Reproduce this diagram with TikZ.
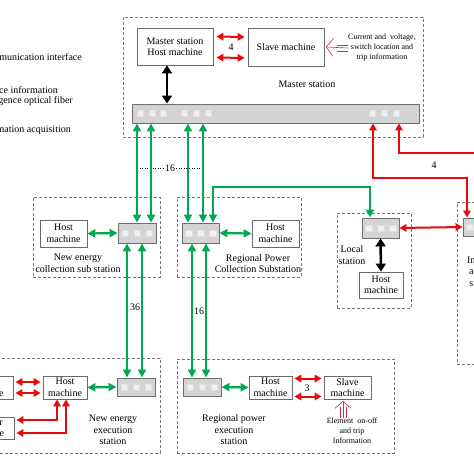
\documentclass[tikz,border=0pt]{standalone}
\usepackage{fontspec}
\setmainfont{Liberation Serif}
\usetikzlibrary{arrows.meta}
\definecolor{gr}{RGB}{0,168,80}
\definecolor{rd}{RGB}{235,10,10}
\definecolor{ird}{RGB}{205,45,65}
\definecolor{bxg}{RGB}{105,105,105}
\definecolor{dg}{RGB}{120,120,120}
\definecolor{swf}{RGB}{212,212,212}
\definecolor{swd}{RGB}{110,110,110}
\definecolor{ptf}{RGB}{240,240,240}
\newcommand\dgtxt{\fontsize{10}{11.5}\selectfont}
\newcommand\dgsmall{\fontsize{8}{10}\selectfont}
\tikzset{
 dbox/.style={draw=dg, dash pattern=on 3pt off 2pt, line width=0.7pt, inner sep=0pt},
 hbox/.style={draw=bxg, fill=white, line width=0.8pt, align=center, inner sep=0.5pt, font=\dgtxt},
 swbox/.style={draw=swd, fill=swf, line width=0.9pt, inner sep=0pt},
 port/.style={draw=ptf!85!gray, fill=ptf, minimum size=6.5pt, inner sep=0pt},
 lbl/.style={align=center, font=\dgtxt, inner sep=0pt},
 small/.style={align=center, font=\dgsmall, inner sep=0pt},
 garr/.style={draw=gr, line width=2.2pt, {Triangle[length=8pt,width=8pt]}-{Triangle[length=8pt,width=8pt]}},
 rarr/.style={draw=rd, line width=2pt, {Triangle[length=7pt,width=7.5pt]}-{Triangle[length=7pt,width=7.5pt]}},
 rarrone/.style={draw=rd, line width=2pt, {Triangle[length=7pt,width=7.5pt]}-},
 karr/.style={draw=black, line width=2.5pt, {Triangle[length=8pt,width=10pt]}-{Triangle[length=8pt,width=10pt]}},
 iarr/.style={draw=ird, line width=0.6pt},
}
\begin{document}
\begin{tikzpicture}[x=1pt,y=-1pt]
\useasboundingbox (0,0) rectangle (474,474);
\clip (0,0) rectangle (474,474);

% column coordinates
\coordinate (cA) at (137,0); \coordinate (cB) at (151,0);
\coordinate (cC) at (188,0); \coordinate (cD) at (203,0);
\coordinate (cE) at (213,0); \coordinate (cF) at (370,0);
\coordinate (cG) at (127,0); \coordinate (cH) at (142,0);
\coordinate (cI) at (192,0); \coordinate (cJ) at (206,0);
\coordinate (kx) at (167,0);
\coordinate (gy) at (0,187); \coordinate (dy) at (0,168);
\coordinate (rx1) at (373,0); \coordinate (rx2) at (399,0);
\coordinate (rx3) at (467,0); \coordinate (rend) at (485,0);
\coordinate (ry1) at (0,178); \coordinate (ry2) at (0,153);
\coordinate (rx4) at (57,0); \coordinate (rx5) at (66,0);
\coordinate (ex) at (343,0);

% legend (clipped)
\node[lbl, anchor=east] (lg1) at (82,57) {Communication interface};
\node[lbl, anchor=east] (lg2) at (58,90) {Interface information};
\node[lbl, anchor=east] (lg3) at (73,101) {Intelligence optical fiber};
\node[lbl, anchor=east] (lg4) at (71,130) {Information acquisition};

% master station
\node[dbox, minimum width=300pt, minimum height=120pt] (mbox) at (273,77) {};
\node[hbox, minimum width=76pt, minimum height=37pt] (mhost) at (175,46.5) {Master station\\Host machine};
\node[hbox, minimum width=76pt, minimum height=38pt] (mslave) at (286,47) {Slave machine};
\node[lbl] (n4a) at (231,47.5) {4};
\draw[rarr] ([yshift=10pt,xshift=3pt]mhost.east) -- ([yshift=10pt,xshift=-3pt]mslave.west);
\draw[rarr] ([yshift=-11pt,xshift=3pt]mhost.east) -- ([yshift=-11pt,xshift=-3pt]mslave.west);
\node[small] (minfo) at (382,48) {Current and \ voltage,\\switch location and\\trip information};
\draw[iarr, -{Straight Barb[length=7pt,width=18pt]}] (minfo.west) -- ([xshift=1.5pt]mslave.east);
\draw[iarr] ([yshift=3pt]minfo.west) -- ++(-11,0);
\draw[iarr] ([yshift=-3pt]minfo.west) -- ++(-11,0);
\node[lbl] (mlbl) at (307,84) {Master station};

\node[swbox, minimum width=287pt, minimum height=19pt] (bar) at (275.5,113.5) {};
\foreach \px [count=\i] in {140,152,163,184,196,208,372,384,396}
  \node[port] (bp\i) at (\px,113) {};
\draw[karr] (mhost.south -| kx) -- (bar.north -| kx);

% new energy collection sub station
\node[dbox, minimum width=127pt, minimum height=80pt] (ncbox) at (96.5,237) {};
\node[hbox, minimum width=47pt, minimum height=27pt] (nchost) at (63.5,233.5) {Host\\machine};
\node[swbox, minimum width=38pt, minimum height=20pt] (nsw) at (137,233) {};
\foreach \o [count=\i] in {-12,0,12} \node[port] (nswp\i) at ([xshift=\o pt]nsw.center) {};
\draw[garr] (nchost.east) -- (nsw.west);
\node[lbl] (nclbl) at (78,263.5) {New energy\\collection sub station};

% regional power collection substation
\node[dbox, minimum width=124pt, minimum height=80pt] (rcbox) at (239,237) {};
\node[swbox, minimum width=37pt, minimum height=20pt] (rsw) at (200.5,233) {};
\foreach \o [count=\i] in {-12,0,12} \node[port] (rswp\i) at ([xshift=\o pt]rsw.center) {};
\node[hbox, minimum width=47pt, minimum height=27pt] (rchost) at (275.5,233.5) {Host\\machine};
\draw[garr] (rsw.east) -- (rchost.west);
\node[lbl] (rclbl) at (258,263.5) {Regional Power\\Collection Substation};

% local station
\node[dbox, minimum width=74pt, minimum height=95pt] (lbox) at (374,260.5) {};
\node[swbox, minimum width=37pt, minimum height=20pt] (lsw) at (380.5,228) {};
\foreach \o [count=\i] in {-12,0,12} \node[port] (lswp\i) at ([xshift=\o pt]lsw.center) {};
\node[hbox, minimum width=44pt, minimum height=26pt] (lhost) at (381,285) {Host\\machine};
\draw[karr] (lsw.south) -- (lhost.north);
\node[lbl] (llbl) at (352,255) {Local\\station};

% right station (clipped)
\node[dbox, minimum width=63pt, minimum height=162pt] (ibox) at (488.5,283) {};
\node[swbox, minimum width=37pt, minimum height=18pt] (isw) at (481.5,227) {};
\foreach \o [count=\i] in {-12,0,12} \node[port] (iswp\i) at ([xshift=\o pt]isw.center) {};
\node[lbl] (ilbl) at (491,271.5) {Information\\acquisition\\sub station};

% green links from master
\draw[dotted, line width=0.6pt] (cA |- dy) -- (cD |- dy);
\node[lbl, fill=white, inner sep=1pt] (n16a) at (170,168) {16};
\draw[garr] (bar.south -| cA) -- (nsw.north -| cA);
\draw[garr] (bar.south -| cB) -- (nsw.north -| cB);
\draw[garr] (bar.south -| cC) -- (rsw.north -| cC);
\draw[garr] (bar.south -| cD) -- (rsw.north -| cD);
\draw[garr] (rsw.north -| cE) -- (cE |- gy) -| (lsw.north -| cF);

% red links
\draw[rarr] (bar.south -| rx1) -- (rx1 |- ry1) -| (isw.north -| rx3);
\draw[rarrone] (bar.south -| rx2) -- (rx2 |- ry2) -- (rend |- ry2);
\node[lbl] (n4b) at (434,165) {4};
\draw[rarr] (lsw.east) -- (isw.west);

% new energy execution station
\node[dbox, minimum width=170pt, minimum height=95pt] (nebox) at (75,405.5) {};
\node[swbox, minimum width=38pt, minimum height=18pt] (nesw) at (136,387) {};
\foreach \o [count=\i] in {-12,0,12} \node[port] (neswp\i) at ([xshift=\o pt]nesw.center) {};
\draw[garr] (nsw.south -| cG) -- (nesw.north -| cG);
\draw[garr] (nsw.south -| cH) -- (nesw.north -| cH);
\node[lbl, fill=white, inner sep=0.5pt] (n36) at (135,307) {36};
\node[hbox, minimum width=44pt, minimum height=23pt] (nehost) at (65,387.5) {Host\\machine};
\draw[garr] (nehost.east) -- (nesw.west);
\node[hbox, minimum width=53pt, minimum height=23pt] (lb1) at (-13.5,387.5) {Slave\\machine};
\node[hbox, minimum width=54pt, minimum height=22pt] (lb2) at (-13,428) {Inverter\\machine};
\draw[rarr] ([yshift=5.5pt,xshift=2pt]lb1.east) -- ([yshift=5.5pt,xshift=-2pt]nehost.west);
\draw[rarr] ([yshift=-5.5pt,xshift=2pt]lb1.east) -- ([yshift=-5.5pt,xshift=-2pt]nehost.west);
\draw[rarr] (nehost.south -| rx4) |- ([yshift=8pt,xshift=2pt]lb2.east);
\draw[rarr] (nehost.south -| rx5) |- ([yshift=-5pt,xshift=2pt]lb2.east);
\node[lbl] (nelbl) at (113,430) {New energy\\execution\\station};

% regional power execution station
\node[dbox, minimum width=217pt, minimum height=94pt] (rebox) at (285.5,406) {};
\node[swbox, minimum width=38pt, minimum height=18pt] (resw) at (202,387) {};
\foreach \o [count=\i] in {-12,0,12} \node[port] (reswp\i) at ([xshift=\o pt]resw.center) {};
\draw[garr] (rsw.south -| cI) -- (resw.north -| cI);
\draw[garr] (rsw.south -| cJ) -- (resw.north -| cJ);
\node[lbl, fill=white, inner sep=0.5pt] (n16b) at (199,311) {16};
\node[hbox, minimum width=43pt, minimum height=23pt] (rehost) at (270.5,387.5) {Host\\machine};
\node[hbox, minimum width=47pt, minimum height=23pt] (reslave) at (347.5,387.5) {Slave\\machine};
\draw[garr] (resw.east) -- (rehost.west);
\draw[rarr] ([yshift=9pt,xshift=2pt]rehost.east) -- ([yshift=9pt,xshift=-2pt]reslave.west);
\draw[rarr] ([yshift=-9pt,xshift=2pt]rehost.east) -- ([yshift=-9pt,xshift=-2pt]reslave.west);
\node[lbl] (n3) at (307,388) {3};
\node[small] (einfo) at (352,431) {Element \ on-off\\and trip\\Information};
\coordinate (eb) at (einfo.north -| ex);
\coordinate (et) at (reslave.south -| ex);
\draw[iarr, -{Straight Barb[length=7pt,width=16pt]}] (eb) -- ([yshift=-1.5pt]et);
\draw[iarr] ([xshift=-3pt]eb) -- ++(0,-11);
\draw[iarr] ([xshift=3pt]eb) -- ++(0,-11);
\node[lbl] (relbl) at (234,430) {Regional power\\execution\\station};
\end{tikzpicture}
\end{document}
